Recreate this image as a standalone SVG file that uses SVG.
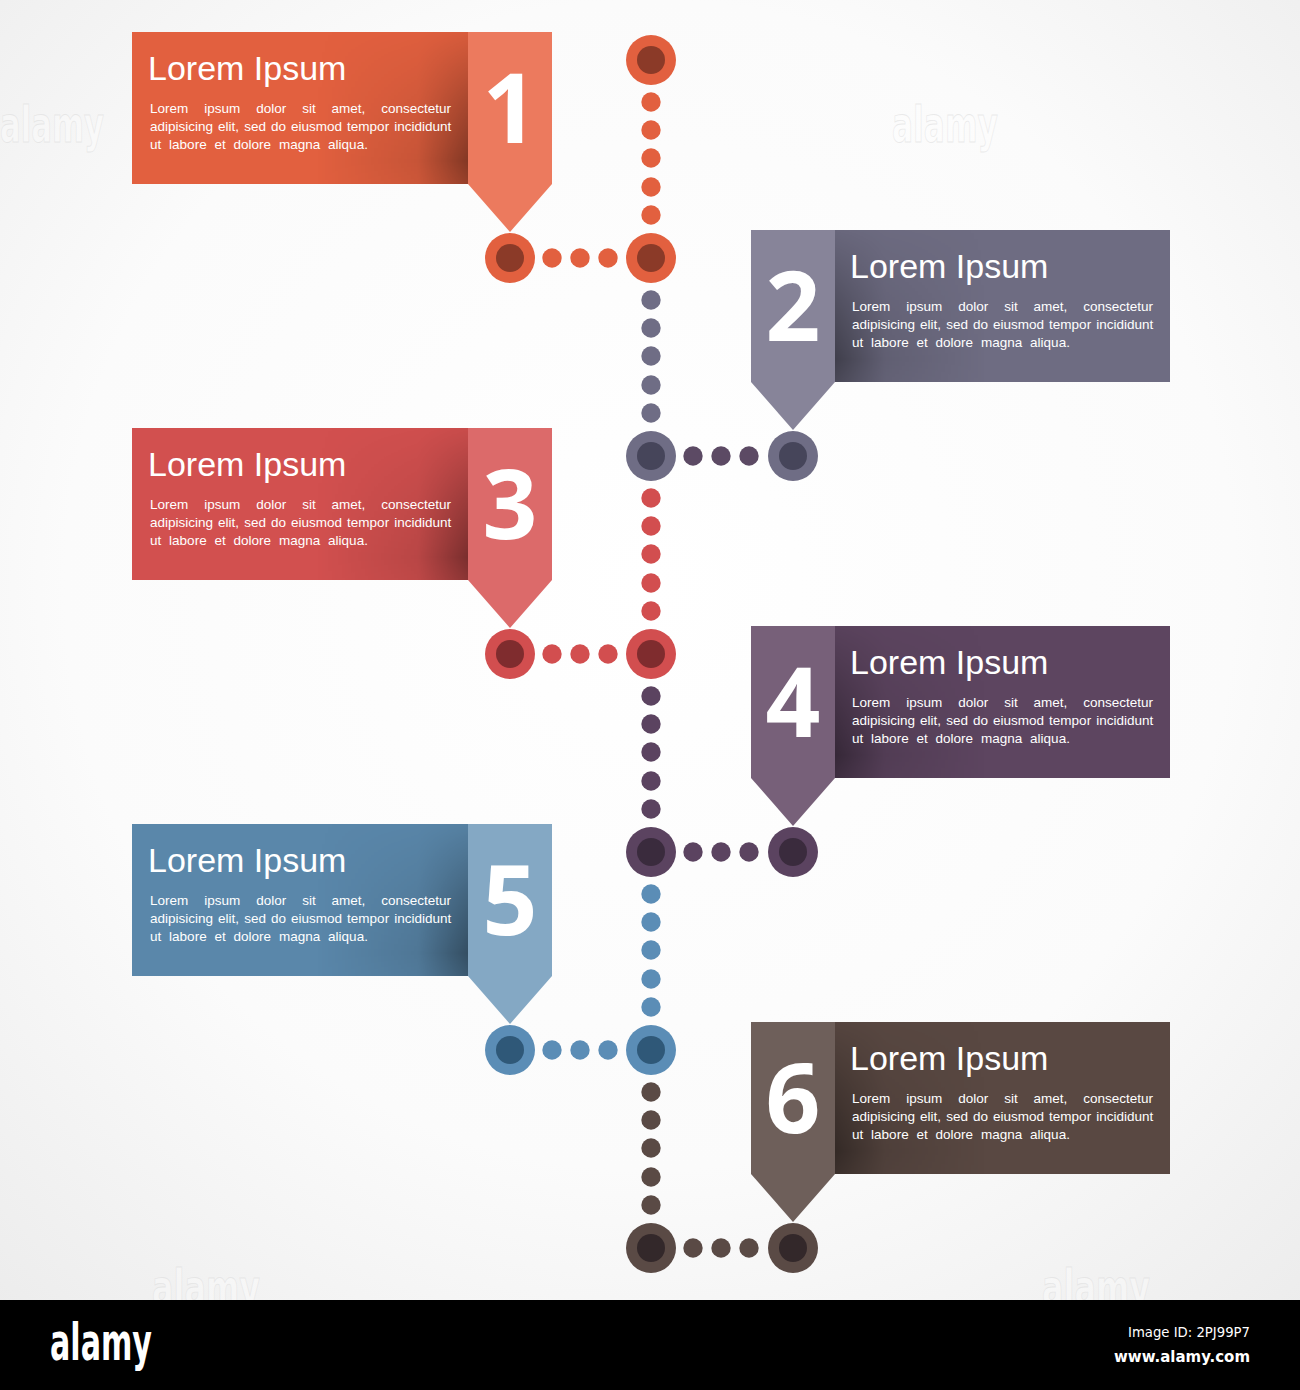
<svg xmlns="http://www.w3.org/2000/svg" width="1300" height="1390" viewBox="0 0 1300 1390">
<defs>
<radialGradient id="bg" cx="0.5" cy="0.45" r="0.75">
<stop offset="0" stop-color="#ffffff"/>
<stop offset="0.6" stop-color="#fbfbfb"/>
<stop offset="1" stop-color="#ececec"/>
</radialGradient>
<linearGradient id="hR" x1="0" y1="0" x2="1" y2="0">
<stop offset="0.55" stop-color="#000" stop-opacity="0"/>
<stop offset="0.85" stop-color="#000" stop-opacity="0.12"/>
<stop offset="1" stop-color="#000" stop-opacity="0.42"/>
</linearGradient>
<linearGradient id="hL" x1="1" y1="0" x2="0" y2="0">
<stop offset="0.55" stop-color="#000" stop-opacity="0"/>
<stop offset="0.85" stop-color="#000" stop-opacity="0.12"/>
<stop offset="1" stop-color="#000" stop-opacity="0.42"/>
</linearGradient>
<linearGradient id="vm" x1="0" y1="0" x2="0" y2="1">
<stop offset="0" stop-color="#fff" stop-opacity="0.1"/>
<stop offset="0.45" stop-color="#fff" stop-opacity="0.6"/>
<stop offset="0.85" stop-color="#fff" stop-opacity="1"/>
<stop offset="1" stop-color="#fff" stop-opacity="0.8"/>
</linearGradient>
<mask id="mk" maskContentUnits="objectBoundingBox">
<rect width="1" height="1" fill="url(#vm)"/>
</mask>
</defs>
<style>
.title{font-family:"Liberation Sans",Arial,sans-serif;font-size:34px;fill:#fff}
.body{font-family:"Liberation Sans",Arial,sans-serif;font-size:13.5px;fill:#fff}
.l1{word-spacing:12.2px}
.l2{word-spacing:1.3px}
.l3{word-spacing:4.1px}
.num{font-family:"Open Sans","DejaVu Sans",sans-serif;font-weight:700;font-size:96px;fill:#fff;text-anchor:middle}
.wm{font-family:"DejaVu Sans",sans-serif;font-weight:700;font-size:50px;font-stretch:condensed;fill:#ffffff;fill-opacity:0.35;stroke:#d8d8d8;stroke-opacity:0.5;stroke-width:0.8}
.c1{fill:#E2603F}.d1{fill:#8B3A28}
.c2{fill:#6F6D85}.d2{fill:#46455A}.h2{fill:#5C4A64}
.c3{fill:#D24E4F}.d3{fill:#7F2C2E}
.c4{fill:#5B4360}.d4{fill:#3A2B3D}
.c5{fill:#5B8DB6}.d5{fill:#2F5878}
.c6{fill:#5A4A45}.d6{fill:#33282A}
</style>
<rect width="1300" height="1300" fill="url(#bg)"/>

<g id="connectors">
<g class="c1"><circle cx="651" cy="102" r="9.7"/><circle cx="651" cy="130" r="9.7"/><circle cx="651" cy="158" r="9.7"/><circle cx="651" cy="187" r="9.7"/><circle cx="651" cy="215" r="9.7"/>
<circle cx="552" cy="258" r="9.7"/><circle cx="580" cy="258" r="9.7"/><circle cx="608" cy="258" r="9.7"/></g>
<g class="c2"><circle cx="651" cy="300" r="9.7"/><circle cx="651" cy="328" r="9.7"/><circle cx="651" cy="356" r="9.7"/><circle cx="651" cy="385" r="9.7"/><circle cx="651" cy="413" r="9.7"/></g>
<g class="h2"><circle cx="693" cy="456" r="9.7"/><circle cx="721" cy="456" r="9.7"/><circle cx="749" cy="456" r="9.7"/></g>
<g class="c3"><circle cx="651" cy="498" r="9.7"/><circle cx="651" cy="526" r="9.7"/><circle cx="651" cy="554" r="9.7"/><circle cx="651" cy="583" r="9.7"/><circle cx="651" cy="611" r="9.7"/>
<circle cx="552" cy="654" r="9.7"/><circle cx="580" cy="654" r="9.7"/><circle cx="608" cy="654" r="9.7"/></g>
<g class="c4"><circle cx="651" cy="696" r="9.7"/><circle cx="651" cy="724" r="9.7"/><circle cx="651" cy="752" r="9.7"/><circle cx="651" cy="781" r="9.7"/><circle cx="651" cy="809" r="9.7"/>
<circle cx="693" cy="852" r="9.7"/><circle cx="721" cy="852" r="9.7"/><circle cx="749" cy="852" r="9.7"/></g>
<g class="c5"><circle cx="651" cy="894" r="9.7"/><circle cx="651" cy="922" r="9.7"/><circle cx="651" cy="950" r="9.7"/><circle cx="651" cy="979" r="9.7"/><circle cx="651" cy="1007" r="9.7"/>
<circle cx="552" cy="1050" r="9.7"/><circle cx="580" cy="1050" r="9.7"/><circle cx="608" cy="1050" r="9.7"/></g>
<g class="c6"><circle cx="651" cy="1092" r="9.7"/><circle cx="651" cy="1120" r="9.7"/><circle cx="651" cy="1148" r="9.7"/><circle cx="651" cy="1177" r="9.7"/><circle cx="651" cy="1205" r="9.7"/>
<circle cx="693" cy="1248" r="9.7"/><circle cx="721" cy="1248" r="9.7"/><circle cx="749" cy="1248" r="9.7"/></g>
<g id="spine-nodes">
<circle class="c1" cx="651" cy="60" r="25"/><circle class="d1" cx="651" cy="60" r="14"/>
<circle class="c1" cx="651" cy="258" r="25"/><circle class="d1" cx="651" cy="258" r="14"/>
<circle class="c2" cx="651" cy="456" r="25"/><circle class="d2" cx="651" cy="456" r="14"/>
<circle class="c3" cx="651" cy="654" r="25"/><circle class="d3" cx="651" cy="654" r="14"/>
<circle class="c4" cx="651" cy="852" r="25"/><circle class="d4" cx="651" cy="852" r="14"/>
<circle class="c5" cx="651" cy="1050" r="25"/><circle class="d5" cx="651" cy="1050" r="14"/>
<circle class="c6" cx="651" cy="1248" r="25"/><circle class="d6" cx="651" cy="1248" r="14"/>
</g>
</g>

<g id="step1">
<rect x="132" y="32" width="336" height="152" fill="#E2603F"/>
<rect x="132" y="32" width="336" height="152" fill="url(#hR)" mask="url(#mk)"/>
<path d="M468 32H552V184L510 232L468 184Z" fill="#EC7A5E"/>
<circle class="c1" cx="510" cy="258" r="25"/><circle class="d1" cx="510" cy="258" r="14"/>
<text class="num" x="510" y="143">1</text>
<text class="title" x="148" y="80">Lorem Ipsum</text>
<text class="body l1" x="150" y="113">Lorem ipsum dolor sit amet, consectetur</text>
<text class="body l2" x="150" y="131">adipisicing elit, sed do eiusmod tempor incididunt</text>
<text class="body l3" x="150" y="149">ut labore et dolore magna aliqua.</text>
</g>

<g id="step2">
<rect x="835" y="230" width="335" height="152" fill="#6E6C82"/>
<rect x="835" y="230" width="335" height="152" fill="url(#hL)" mask="url(#mk)"/>
<path d="M751 230H835V382L793 430L751 382Z" fill="#878499"/>
<circle class="c2" cx="793" cy="456" r="25"/><circle class="d2" cx="793" cy="456" r="14"/>
<text class="num" x="793" y="341">2</text>
<text class="title" x="850" y="278">Lorem Ipsum</text>
<text class="body l1" x="852" y="311">Lorem ipsum dolor sit amet, consectetur</text>
<text class="body l2" x="852" y="329">adipisicing elit, sed do eiusmod tempor incididunt</text>
<text class="body l3" x="852" y="347">ut labore et dolore magna aliqua.</text>
</g>

<g id="step3">
<rect x="132" y="428" width="336" height="152" fill="#D2504F"/>
<rect x="132" y="428" width="336" height="152" fill="url(#hR)" mask="url(#mk)"/>
<path d="M468 428H552V580L510 628L468 580Z" fill="#DC6A6A"/>
<circle class="c3" cx="510" cy="654" r="25"/><circle class="d3" cx="510" cy="654" r="14"/>
<text class="num" x="510" y="539">3</text>
<text class="title" x="148" y="476">Lorem Ipsum</text>
<text class="body l1" x="150" y="509">Lorem ipsum dolor sit amet, consectetur</text>
<text class="body l2" x="150" y="527">adipisicing elit, sed do eiusmod tempor incididunt</text>
<text class="body l3" x="150" y="545">ut labore et dolore magna aliqua.</text>
</g>

<g id="step4">
<rect x="835" y="626" width="335" height="152" fill="#5D4560"/>
<rect x="835" y="626" width="335" height="152" fill="url(#hL)" mask="url(#mk)"/>
<path d="M751 626H835V778L793 826L751 778Z" fill="#776079"/>
<circle class="c4" cx="793" cy="852" r="25"/><circle class="d4" cx="793" cy="852" r="14"/>
<text class="num" x="793" y="737">4</text>
<text class="title" x="850" y="674">Lorem Ipsum</text>
<text class="body l1" x="852" y="707">Lorem ipsum dolor sit amet, consectetur</text>
<text class="body l2" x="852" y="725">adipisicing elit, sed do eiusmod tempor incididunt</text>
<text class="body l3" x="852" y="743">ut labore et dolore magna aliqua.</text>
</g>

<g id="step5">
<rect x="132" y="824" width="336" height="152" fill="#5A87AA"/>
<rect x="132" y="824" width="336" height="152" fill="url(#hR)" mask="url(#mk)"/>
<path d="M468 824H552V976L510 1024L468 976Z" fill="#84A8C4"/>
<circle class="c5" cx="510" cy="1050" r="25"/><circle class="d5" cx="510" cy="1050" r="14"/>
<text class="num" x="510" y="935">5</text>
<text class="title" x="148" y="872">Lorem Ipsum</text>
<text class="body l1" x="150" y="905">Lorem ipsum dolor sit amet, consectetur</text>
<text class="body l2" x="150" y="923">adipisicing elit, sed do eiusmod tempor incididunt</text>
<text class="body l3" x="150" y="941">ut labore et dolore magna aliqua.</text>
</g>

<g id="step6">
<rect x="835" y="1022" width="335" height="152" fill="#594842"/>
<rect x="835" y="1022" width="335" height="152" fill="url(#hL)" mask="url(#mk)"/>
<path d="M751 1022H835V1174L793 1222L751 1174Z" fill="#6E5F5A"/>
<circle class="c6" cx="793" cy="1248" r="25"/><circle class="d6" cx="793" cy="1248" r="14"/>
<text class="num" x="793" y="1133">6</text>
<text class="title" x="850" y="1070">Lorem Ipsum</text>
<text class="body l1" x="852" y="1103">Lorem ipsum dolor sit amet, consectetur</text>
<text class="body l2" x="852" y="1121">adipisicing elit, sed do eiusmod tempor incididunt</text>
<text class="body l3" x="852" y="1139">ut labore et dolore magna aliqua.</text>
</g>

<g id="watermarks">
<text class="wm" x="0" y="142" textLength="104" lengthAdjust="spacingAndGlyphs">alamy</text>
<text class="wm" x="892" y="142" textLength="106" lengthAdjust="spacingAndGlyphs">alamy</text>
<text class="wm" x="152" y="1305" textLength="108" lengthAdjust="spacingAndGlyphs">alamy</text>
<text class="wm" x="1042" y="1305" textLength="108" lengthAdjust="spacingAndGlyphs">alamy</text>
</g>

<g id="footer">
<rect x="0" y="1300" width="1300" height="90" fill="#000"/>
<text x="50" y="1360" font-family="'DejaVu Sans',sans-serif" font-weight="700" font-size="52" fill="#fff" textLength="102" lengthAdjust="spacingAndGlyphs">alamy</text>
<text x="1250" y="1337" font-family="'DejaVu Sans',sans-serif" font-size="14" fill="#fff" text-anchor="end" textLength="122" lengthAdjust="spacingAndGlyphs">Image ID: 2PJ99P7</text>
<text x="1250" y="1362" font-family="'DejaVu Sans',sans-serif" font-weight="700" font-size="16" fill="#fff" text-anchor="end" textLength="136" lengthAdjust="spacingAndGlyphs">www.alamy.com</text>
</g>
</svg>
